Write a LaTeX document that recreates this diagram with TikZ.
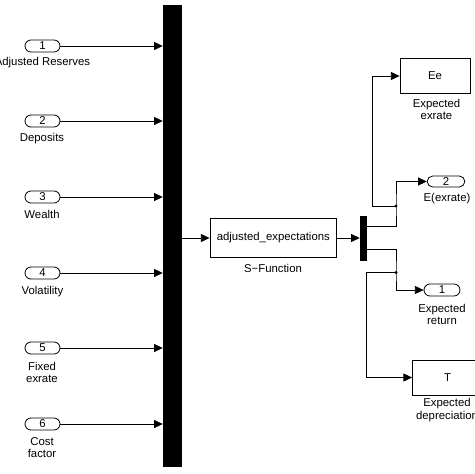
\documentclass[tikz,border=0pt]{standalone}
\usepackage{fontspec}
\setmainfont{Liberation Sans}
\usetikzlibrary{arrows.meta, positioning, shapes.misc}

\begin{document}
\begin{tikzpicture}[
    x=0.03cm, y=-0.03cm,
    font=\fontsize{9.7}{10.6}\selectfont,
    port/.style={
        rounded rectangle, draw, line width=0.7pt,
        minimum width=1.05cm, minimum height=0.36cm, inner sep=0pt
    },
    blk/.style={
        rectangle, draw, line width=0.7pt, inner sep=0pt
    },
    bar/.style={
        rectangle, fill=black, inner sep=0pt
    },
    lbl/.style={align=center, inner sep=0pt},
    arr/.style={-{Triangle[length=0.26cm, width=0.24cm]}, line width=0.7pt},
    wire/.style={line width=0.7pt},
]
\useasboundingbox (0,0) rectangle (474,474);

\node[bar, minimum width=0.57cm, minimum height=13.83cm] (mux) at (172.5,236) {};
\node[port] (in1) at (42.5,46)  {1};
\node[port] (in2) at (42.5,121) {2};
\node[port] (in3) at (42.5,197) {3};
\node[port] (in4) at (42.5,273) {4};
\node[port] (in5) at (42.5,348) {5};
\node[port] (in6) at (42.5,424) {6};
\node[lbl] (in1lab) at (42.5,63)    {Adjusted Reserves};
\node[lbl] (in2lab) at (42,138.5)   {Deposits};
\node[lbl] (in3lab) at (42,214)     {Wealth};
\node[lbl] (in4lab) at (42.5,291.5) {Volatility};
\node[lbl] (in5lab) at (42,372.5)   {Fixed\\exrate};
\node[lbl] (in6lab) at (42,447.5)   {Cost\\factor};

\node[blk, minimum width=3.8cm, minimum height=1.15cm] (sfun) at (273.3,238)
    {adjusted\_expectations};
\node[lbl] (sfunlab) at (273,268) {S−Function};
\node[bar, minimum width=0.2cm, minimum height=1.35cm] (demux) at (363.3,238.2) {};

\node[blk, minimum width=2.1cm, minimum height=1.03cm] (ee) at (435,76) {Ee};
\node[lbl] (eelab) at (436.5,109.5) {Expected\\exrate};
\node[port, minimum width=1.13cm, minimum height=0.33cm] (out2) at (446,181.5) {2};
\node[lbl] (out2lab) at (447,199) {E(exrate)};
\node[port, minimum width=1.08cm, minimum height=0.36cm] (out1) at (442,290) {1};
\node[lbl] (out1lab) at (442,314.5) {Expected\\return};
\node[blk, minimum width=2.1cm, minimum height=1.05cm] (tdep) at (447.5,377.5) {T};
\node[lbl] (tdeplab) at (447,410) {Expected\\depreciation};

\coordinate (dout1) at (366.4,226);
\coordinate (dout2) at (366.4,249.5);
\coordinate (j1) at (396,206);
\coordinate (j2) at (396,272.5);
\coordinate (k1) at (372,206);
\coordinate (k2) at (366,272.5);

\draw[arr] (in1.east) -- (in1.east -| mux.west);
\draw[arr] (in2.east) -- (in2.east -| mux.west);
\draw[arr] (in3.east) -- (in3.east -| mux.west);
\draw[arr] (in4.east) -- (in4.east -| mux.west);
\draw[arr] (in5.east) -- (in5.east -| mux.west);
\draw[arr] (in6.east) -- (in6.east -| mux.west);
\draw[arr] (mux.east |- sfun.west) -- (sfun.west);
\draw[arr] (sfun.east) -- (demux.west |- sfun.east);
\draw[arr] (dout1) -| (j1) |- (out2.west);
\draw[arr] (j1) -- (k1) |- (ee.west);
\draw[arr] (dout2) -| (j2) |- (out1.west);
\draw[arr] (j2) -- (k2) |- (tdep.west);
\fill (j1) circle (1.6);
\fill (j2) circle (1.6);
\end{tikzpicture}
\end{document}
